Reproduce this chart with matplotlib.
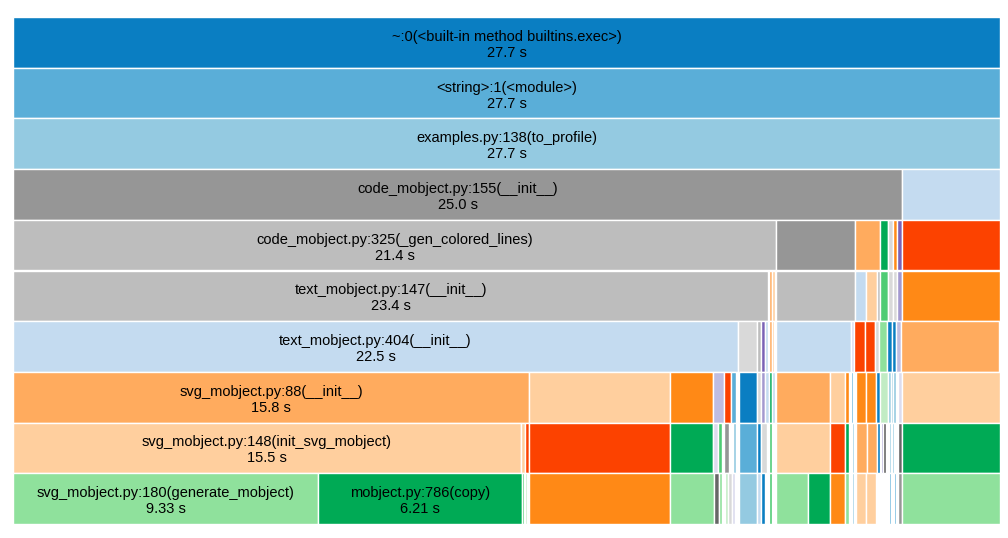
import matplotlib.pyplot as plt

# colour palette used by the profile viewer (index -> colour)
palette = [
    "#0a7ec2", "#5aaed8", "#94cae1", "#c4dbf0",
    "#fc4200", "#ff8916", "#ffab5e", "#ffcf9e",
    "#00aa55", "#4fcc74", "#8fe19c", "#c1ecc4",
    "#7a62b5", "#a399cf", "#bfbde0", "#dcdcee",
    "#666666", "#969696", "#bdbdbd", "#d9d9d9",
]

total_time = 27.7

# each row: durations in seconds, left to right (None colour = empty space)
row0_times = [27.7]
row0_colors = [0]
row1_times = [27.7]
row1_colors = [1]
row2_times = [27.7]
row2_colors = [2]
row3_times = [24.95, 2.75]
row3_colors = [17, 3]
row4_times = [21.41, 2.22, 0.70, 0.22, 0.14, 0.11, 0.14, 2.75]
row4_colors = [18, 17, 6, 8, 19, 5, 12, 4]
row5_times = [21.19, 0.03, 0.08, 0.08, 0.03, 2.22, 0.31, 0.31, 0.08, 0.22, 0.14, 0.11, 0.14, 2.75]
row5_colors = [18, None, 6, 7, None, 18, 3, 7, 18, 9, 19, 19, 13, 5]
row6_times = [20.35, 0.53, 0.11, 0.11, 0.08, 0.03, 0.08, 0.08, 0.03, 2.13, 0.08, 0.31, 0.28,
              0.11, 0.22, 0.14, 0.11, 0.14, 2.75]
row6_colors = [3, 19, 18, 12, 3, None, 6, 7, None, 3, 15, 4, 4, 19, 10, 0, 0, 14, 6]
row7_times = [14.48, 3.96, 1.21, 0.31, 0.20, 0.14, 0.08, 0.51, 0.11, 0.11, 0.11, 0.08, 0.08, 0.03,
              1.52, 0.42, 0.11, 0.06, 0.06, 0.08, 0.28, 0.28, 0.11, 0.22, 0.08, 0.06, 0.08, 0.06,
              0.11, 2.75]
row7_colors = [6, 7, 5, 14, 4, 1, None, 0, 19, 13, 3, 8, 3, None,
               6, 7, 5, None, 1, None, 5, 5, 0, 11, 2, 2, 2, None,
               15, 7]
row8_times = [14.26, 0.11, 0.11, 3.96, 1.21, 0.14, 0.11, 0.06, 0.14, 0.11, 0.08, 0.08, 0.51, 0.11,
              0.17, 0.06, 0.08, 0.11, 1.52, 0.42, 0.11, 0.08, 0.06, 0.06, 0.31, 0.28, 0.08, 0.03,
              0.06, 0.08, 0.08, 0.06, 0.03, 0.06, 0.11, 0.11, 2.75]
row8_colors = [7, 7, 4, 4, 8, 15, 9, None, 17, None, 2, None, 1, 0,
               19, None, 9, None, 7, 4, 8, None, 2, None, 6, 6, 0, None,
               13, 16, None, 2, None, 2, None, 16, 8]
row9_times = [8.56, 5.72, 0.06, 0.03, 0.06, 0.06, 3.96, 1.21, 0.14, 0.11, 0.06, 0.11, 0.11, 0.08,
              0.11, 0.51, 0.11, 0.11, 0.11, 0.08, 0.11, 0.90, 0.62, 0.42, 0.11, 0.08, 0.06, 0.06,
              0.28, 0.28, 0.36, 0.06, 0.08, 0.06, 0.06, 0.11, 2.75]
row9_colors = [10, 8, 9, None, 11, None, 5, 10, 16, 10, None, 11, 19, 15,
               None, 2, 3, 0, None, 9, None, 10, 8, 5, 10, None, 2, None,
               7, 7, None, 1, None, 1, None, 17, 10]

rows_times = [row0_times, row1_times, row2_times, row3_times, row4_times,
              row5_times, row6_times, row7_times, row8_times, row9_times]
rows_colors = [row0_colors, row1_colors, row2_colors, row3_colors, row4_colors,
               row5_colors, row6_colors, row7_colors, row8_colors, row9_colors]

# labels for the wide blocks: (row, block index, function, reported time)
labels = [
    (0, 0, "~:0(<built-in method builtins.exec>)", "27.7 s"),
    (1, 0, "<string>:1(<module>)", "27.7 s"),
    (2, 0, "examples.py:138(to_profile)", "27.7 s"),
    (3, 0, "code_mobject.py:155(__init__)", "25.0 s"),
    (4, 0, "code_mobject.py:325(_gen_colored_lines)", "21.4 s"),
    (5, 0, "text_mobject.py:147(__init__)", "23.4 s"),
    (6, 0, "text_mobject.py:404(__init__)", "22.5 s"),
    (7, 0, "svg_mobject.py:88(__init__)", "15.8 s"),
    (8, 0, "svg_mobject.py:148(init_svg_mobject)", "15.5 s"),
    (9, 0, "svg_mobject.py:180(generate_mobject)", "9.33 s"),
    (9, 1, "mobject.py:786(copy)", "6.21 s"),
]

plt.rcParams["font.family"] = ["Liberation Sans", "DejaVu Sans"]

fig = plt.figure(figsize=(10.08, 5.38), dpi=100)
ax = fig.add_axes([13 / 1008, 14 / 538, 987 / 1008, 507 / 538])

starts_by_row = []
for r, (times, colors) in enumerate(zip(rows_times, rows_colors)):
    left = 0.0
    starts = []
    for t, c in zip(times, colors):
        starts.append(left)
        if c is not None:
            ax.barh(r, t, left=left, height=1.0, color=palette[c],
                    edgecolor="white", linewidth=1.0)
        left += t
    starts_by_row.append(starts)

for r, i, name, secs in labels:
    x = starts_by_row[r][i] + rows_times[r][i] / 2
    ax.text(x, r + 0.05, name + "\n" + secs, ha="center", va="center",
            fontsize=10.5, color="#000000", linespacing=1.18)

ax.set_xlim(0, total_time)
ax.set_ylim(9.5, -0.5)
ax.axis("off")

fig.savefig("out.png", dpi=100)
